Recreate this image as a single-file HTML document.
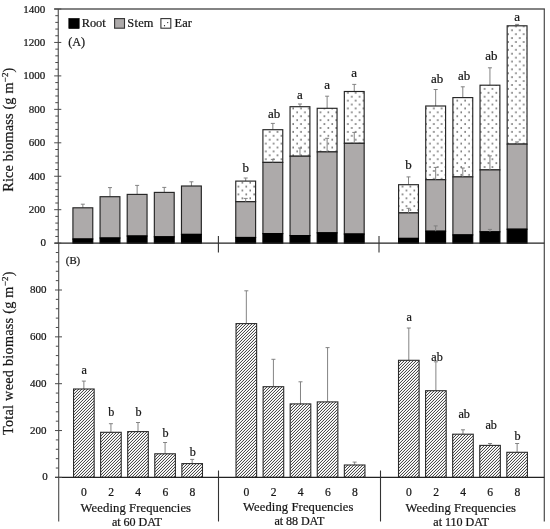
<!DOCTYPE html>
<html lang="en">
<head>
<meta charset="utf-8">
<title>Rice and weed biomass</title>
<style>
html,body{margin:0;padding:0;background:#fff;}
svg{display:block;}
svg text{font-family:"Liberation Serif", serif;fill:#161616;stroke:#161616;stroke-width:0.22px;}
</style>
</head>
<body>
<svg width="550" height="529" viewBox="0 0 550 529">
<rect x="0" y="0" width="550" height="529" fill="#fff"/>
<defs>
<pattern id="dots" x="-2" y="0" width="7.815" height="7.815" patternUnits="userSpaceOnUse">
<rect width="7.815" height="7.815" fill="#fff"/>
<circle cx="2.1" cy="2.9" r="0.72" fill="#000"/>
<circle cx="6.0" cy="6.8" r="0.72" fill="#000"/>
</pattern>
</defs>
<path d="M82.85,207.80 V204.20 M80.85,204.20 H84.85" stroke="#7d7d7d" stroke-width="0.95" fill="none"/>
<rect x="72.92" y="207.80" width="19.85" height="31.20" fill="#adaaaa" stroke="#242424" stroke-width="1.15"/>
<rect x="72.92" y="239.00" width="19.85" height="4.15" fill="#000" stroke="#000" stroke-width="1.15"/>
<path d="M109.99,196.70 V187.60 M107.99,187.60 H111.99" stroke="#7d7d7d" stroke-width="0.95" fill="none"/>
<rect x="100.06" y="196.70" width="19.85" height="41.30" fill="#adaaaa" stroke="#242424" stroke-width="1.15"/>
<rect x="100.06" y="238.00" width="19.85" height="5.15" fill="#000" stroke="#000" stroke-width="1.15"/>
<path d="M137.13,194.40 V185.40 M135.13,185.40 H139.13" stroke="#7d7d7d" stroke-width="0.95" fill="none"/>
<rect x="127.20" y="194.40" width="19.85" height="41.60" fill="#adaaaa" stroke="#242424" stroke-width="1.15"/>
<rect x="127.20" y="236.00" width="19.85" height="7.15" fill="#000" stroke="#000" stroke-width="1.15"/>
<path d="M164.27,192.40 V187.40 M162.27,187.40 H166.27" stroke="#7d7d7d" stroke-width="0.95" fill="none"/>
<rect x="154.34" y="192.40" width="19.85" height="44.40" fill="#adaaaa" stroke="#242424" stroke-width="1.15"/>
<rect x="154.34" y="236.80" width="19.85" height="6.35" fill="#000" stroke="#000" stroke-width="1.15"/>
<path d="M191.41,186.00 V181.80 M189.41,181.80 H193.41" stroke="#7d7d7d" stroke-width="0.95" fill="none"/>
<rect x="181.48" y="186.00" width="19.85" height="48.40" fill="#adaaaa" stroke="#242424" stroke-width="1.15"/>
<rect x="181.48" y="234.40" width="19.85" height="8.75" fill="#000" stroke="#000" stroke-width="1.15"/>
<path d="M245.69,181.10 V178.00 M243.69,178.00 H247.69" stroke="#7d7d7d" stroke-width="0.95" fill="none"/>
<rect x="235.76" y="181.10" width="19.85" height="20.60" fill="url(#dots)" stroke="#242424" stroke-width="1.15"/>
<rect x="235.76" y="201.70" width="19.85" height="35.80" fill="#adaaaa" stroke="#242424" stroke-width="1.15"/>
<path d="M245.69,201.70 V198.40 M243.69,198.40 H247.69" stroke="#7d7d7d" stroke-width="0.95" fill="none"/>
<rect x="235.76" y="237.50" width="19.85" height="5.65" fill="#000" stroke="#000" stroke-width="1.15"/>
<text x="245.7" y="171.5" font-size="13" text-anchor="middle">b</text>
<path d="M272.83,129.70 V123.40 M270.83,123.40 H274.83" stroke="#7d7d7d" stroke-width="0.95" fill="none"/>
<rect x="262.91" y="129.70" width="19.85" height="32.70" fill="url(#dots)" stroke="#242424" stroke-width="1.15"/>
<rect x="262.91" y="162.40" width="19.85" height="71.20" fill="#adaaaa" stroke="#242424" stroke-width="1.15"/>
<path d="M272.83,162.40 V159.40 M270.83,159.40 H274.83" stroke="#7d7d7d" stroke-width="0.95" fill="none"/>
<rect x="262.91" y="233.60" width="19.85" height="9.55" fill="#000" stroke="#000" stroke-width="1.15"/>
<text x="274.2" y="118.0" font-size="13" text-anchor="middle">ab</text>
<path d="M299.97,106.70 V104.00 M297.97,104.00 H301.97" stroke="#7d7d7d" stroke-width="0.95" fill="none"/>
<rect x="290.05" y="106.70" width="19.85" height="49.50" fill="url(#dots)" stroke="#242424" stroke-width="1.15"/>
<rect x="290.05" y="156.20" width="19.85" height="79.40" fill="#adaaaa" stroke="#242424" stroke-width="1.15"/>
<path d="M299.97,156.20 V148.00 M297.97,148.00 H301.97" stroke="#7d7d7d" stroke-width="0.95" fill="none"/>
<rect x="290.05" y="235.60" width="19.85" height="7.55" fill="#000" stroke="#000" stroke-width="1.15"/>
<text x="300.0" y="98.5" font-size="13" text-anchor="middle">a</text>
<path d="M327.11,108.30 V96.20 M325.11,96.20 H329.11" stroke="#7d7d7d" stroke-width="0.95" fill="none"/>
<rect x="317.19" y="108.30" width="19.85" height="43.60" fill="url(#dots)" stroke="#242424" stroke-width="1.15"/>
<rect x="317.19" y="151.90" width="19.85" height="80.90" fill="#adaaaa" stroke="#242424" stroke-width="1.15"/>
<path d="M327.11,151.90 V138.30 M325.11,138.30 H329.11" stroke="#7d7d7d" stroke-width="0.95" fill="none"/>
<rect x="317.19" y="232.80" width="19.85" height="10.35" fill="#000" stroke="#000" stroke-width="1.15"/>
<text x="327.1" y="89.0" font-size="13" text-anchor="middle">a</text>
<path d="M354.25,91.50 V84.40 M352.25,84.40 H356.25" stroke="#7d7d7d" stroke-width="0.95" fill="none"/>
<rect x="344.32" y="91.50" width="19.85" height="51.80" fill="url(#dots)" stroke="#242424" stroke-width="1.15"/>
<rect x="344.32" y="143.30" width="19.85" height="90.70" fill="#adaaaa" stroke="#242424" stroke-width="1.15"/>
<path d="M354.25,143.30 V132.40 M352.25,132.40 H356.25" stroke="#7d7d7d" stroke-width="0.95" fill="none"/>
<rect x="344.32" y="234.00" width="19.85" height="9.15" fill="#000" stroke="#000" stroke-width="1.15"/>
<text x="354.2" y="77.4" font-size="13" text-anchor="middle">a</text>
<path d="M408.53,184.70 V176.90 M406.53,176.90 H410.53" stroke="#7d7d7d" stroke-width="0.95" fill="none"/>
<rect x="398.60" y="184.70" width="19.85" height="28.20" fill="url(#dots)" stroke="#242424" stroke-width="1.15"/>
<rect x="398.60" y="212.90" width="19.85" height="25.50" fill="#adaaaa" stroke="#242424" stroke-width="1.15"/>
<path d="M408.53,212.90 V208.30 M406.53,208.30 H410.53" stroke="#7d7d7d" stroke-width="0.95" fill="none"/>
<rect x="398.60" y="238.40" width="19.85" height="4.75" fill="#000" stroke="#000" stroke-width="1.15"/>
<text x="408.5" y="169.3" font-size="13" text-anchor="middle">b</text>
<path d="M435.67,106.00 V89.50 M433.67,89.50 H437.67" stroke="#7d7d7d" stroke-width="0.95" fill="none"/>
<rect x="425.74" y="106.00" width="19.85" height="73.70" fill="url(#dots)" stroke="#242424" stroke-width="1.15"/>
<rect x="425.74" y="179.70" width="19.85" height="51.50" fill="#adaaaa" stroke="#242424" stroke-width="1.15"/>
<path d="M435.67,179.70 V167.40 M433.67,167.40 H437.67" stroke="#7d7d7d" stroke-width="0.95" fill="none"/>
<rect x="425.74" y="231.20" width="19.85" height="11.95" fill="#000" stroke="#000" stroke-width="1.15"/>
<path d="M435.67,231.20 V225.90 M433.67,225.90 H437.67" stroke="#7d7d7d" stroke-width="0.95" fill="none"/>
<text x="437.1" y="82.5" font-size="13" text-anchor="middle">ab</text>
<path d="M462.81,97.60 V86.80 M460.81,86.80 H464.81" stroke="#7d7d7d" stroke-width="0.95" fill="none"/>
<rect x="452.89" y="97.60" width="19.85" height="79.30" fill="url(#dots)" stroke="#242424" stroke-width="1.15"/>
<rect x="452.89" y="176.90" width="19.85" height="58.00" fill="#adaaaa" stroke="#242424" stroke-width="1.15"/>
<path d="M462.81,176.90 V168.00 M460.81,168.00 H464.81" stroke="#7d7d7d" stroke-width="0.95" fill="none"/>
<rect x="452.89" y="234.90" width="19.85" height="8.25" fill="#000" stroke="#000" stroke-width="1.15"/>
<text x="464.2" y="80.4" font-size="13" text-anchor="middle">ab</text>
<path d="M489.95,85.20 V67.80 M487.95,67.80 H491.95" stroke="#7d7d7d" stroke-width="0.95" fill="none"/>
<rect x="480.03" y="85.20" width="19.85" height="84.70" fill="url(#dots)" stroke="#242424" stroke-width="1.15"/>
<rect x="480.03" y="169.90" width="19.85" height="61.90" fill="#adaaaa" stroke="#242424" stroke-width="1.15"/>
<path d="M489.95,169.90 V155.90 M487.95,155.90 H491.95" stroke="#7d7d7d" stroke-width="0.95" fill="none"/>
<rect x="480.03" y="231.80" width="19.85" height="11.35" fill="#000" stroke="#000" stroke-width="1.15"/>
<path d="M489.95,231.80 V229.40 M487.95,229.40 H491.95" stroke="#7d7d7d" stroke-width="0.95" fill="none"/>
<text x="491.4" y="60.1" font-size="13" text-anchor="middle">ab</text>
<path d="M517.09,25.80 V24.40 M515.09,24.40 H519.09" stroke="#7d7d7d" stroke-width="0.95" fill="none"/>
<rect x="507.17" y="25.80" width="19.85" height="118.30" fill="url(#dots)" stroke="#242424" stroke-width="1.15"/>
<rect x="507.17" y="144.10" width="19.85" height="85.10" fill="#adaaaa" stroke="#242424" stroke-width="1.15"/>
<path d="M517.09,144.10 V141.90 M515.09,141.90 H519.09" stroke="#7d7d7d" stroke-width="0.95" fill="none"/>
<rect x="507.17" y="229.20" width="19.85" height="13.95" fill="#000" stroke="#000" stroke-width="1.15"/>
<text x="517.1" y="20.6" font-size="13" text-anchor="middle">a</text>
<clipPath id="bclip"><rect x="73.55" y="389.00" width="20.60" height="88.40"/><rect x="100.63" y="432.30" width="20.60" height="45.10"/><rect x="127.71" y="431.60" width="20.60" height="45.80"/><rect x="154.79" y="453.80" width="20.60" height="23.60"/><rect x="181.87" y="463.60" width="20.60" height="13.80"/><rect x="236.03" y="323.60" width="20.60" height="153.80"/><rect x="263.11" y="386.70" width="20.60" height="90.70"/><rect x="290.19" y="403.90" width="20.60" height="73.50"/><rect x="317.27" y="401.90" width="20.60" height="75.50"/><rect x="344.35" y="465.00" width="20.60" height="12.40"/><rect x="398.51" y="360.30" width="20.60" height="117.10"/><rect x="425.59" y="390.70" width="20.60" height="86.70"/><rect x="452.67" y="434.20" width="20.60" height="43.20"/><rect x="479.75" y="445.40" width="20.60" height="32.00"/><rect x="506.83" y="452.30" width="20.60" height="25.10"/></clipPath>
<path clip-path="url(#bclip)" d="M-139.50,478.4l200.00,-200M-136.50,478.4l200.00,-200M-133.50,478.4l200.00,-200M-130.50,478.4l200.00,-200M-127.50,478.4l200.00,-200M-124.50,478.4l200.00,-200M-121.50,478.4l200.00,-200M-118.50,478.4l200.00,-200M-115.50,478.4l200.00,-200M-112.50,478.4l200.00,-200M-109.50,478.4l200.00,-200M-106.50,478.4l200.00,-200M-103.50,478.4l200.00,-200M-100.50,478.4l200.00,-200M-97.50,478.4l200.00,-200M-94.50,478.4l200.00,-200M-91.50,478.4l200.00,-200M-88.50,478.4l200.00,-200M-85.50,478.4l200.00,-200M-82.50,478.4l200.00,-200M-79.50,478.4l200.00,-200M-76.50,478.4l200.00,-200M-73.50,478.4l200.00,-200M-70.50,478.4l200.00,-200M-67.50,478.4l200.00,-200M-64.50,478.4l200.00,-200M-61.50,478.4l200.00,-200M-58.50,478.4l200.00,-200M-55.50,478.4l200.00,-200M-52.50,478.4l200.00,-200M-49.50,478.4l200.00,-200M-46.50,478.4l200.00,-200M-43.50,478.4l200.00,-200M-40.50,478.4l200.00,-200M-37.50,478.4l200.00,-200M-34.50,478.4l200.00,-200M-31.50,478.4l200.00,-200M-28.50,478.4l200.00,-200M-25.50,478.4l200.00,-200M-22.50,478.4l200.00,-200M-19.50,478.4l200.00,-200M-16.50,478.4l200.00,-200M-13.50,478.4l200.00,-200M-10.50,478.4l200.00,-200M-7.50,478.4l200.00,-200M-4.50,478.4l200.00,-200M-1.50,478.4l200.00,-200M1.50,478.4l200.00,-200M4.50,478.4l200.00,-200M7.50,478.4l200.00,-200M10.50,478.4l200.00,-200M13.50,478.4l200.00,-200M16.50,478.4l200.00,-200M19.50,478.4l200.00,-200M22.50,478.4l200.00,-200M25.50,478.4l200.00,-200M28.50,478.4l200.00,-200M31.50,478.4l200.00,-200M34.50,478.4l200.00,-200M37.50,478.4l200.00,-200M40.50,478.4l200.00,-200M43.50,478.4l200.00,-200M46.50,478.4l200.00,-200M49.50,478.4l200.00,-200M52.50,478.4l200.00,-200M55.50,478.4l200.00,-200M58.50,478.4l200.00,-200M61.50,478.4l200.00,-200M64.50,478.4l200.00,-200M67.50,478.4l200.00,-200M70.50,478.4l200.00,-200M73.50,478.4l200.00,-200M76.50,478.4l200.00,-200M79.50,478.4l200.00,-200M82.50,478.4l200.00,-200M85.50,478.4l200.00,-200M88.50,478.4l200.00,-200M91.50,478.4l200.00,-200M94.50,478.4l200.00,-200M97.50,478.4l200.00,-200M100.50,478.4l200.00,-200M103.50,478.4l200.00,-200M106.50,478.4l200.00,-200M109.50,478.4l200.00,-200M112.50,478.4l200.00,-200M115.50,478.4l200.00,-200M118.50,478.4l200.00,-200M121.50,478.4l200.00,-200M124.50,478.4l200.00,-200M127.50,478.4l200.00,-200M130.50,478.4l200.00,-200M133.50,478.4l200.00,-200M136.50,478.4l200.00,-200M139.50,478.4l200.00,-200M142.50,478.4l200.00,-200M145.50,478.4l200.00,-200M148.50,478.4l200.00,-200M151.50,478.4l200.00,-200M154.50,478.4l200.00,-200M157.50,478.4l200.00,-200M160.50,478.4l200.00,-200M163.50,478.4l200.00,-200M166.50,478.4l200.00,-200M169.50,478.4l200.00,-200M172.50,478.4l200.00,-200M175.50,478.4l200.00,-200M178.50,478.4l200.00,-200M181.50,478.4l200.00,-200M184.50,478.4l200.00,-200M187.50,478.4l200.00,-200M190.50,478.4l200.00,-200M193.50,478.4l200.00,-200M196.50,478.4l200.00,-200M199.50,478.4l200.00,-200M202.50,478.4l200.00,-200M205.50,478.4l200.00,-200M208.50,478.4l200.00,-200M211.50,478.4l200.00,-200M214.50,478.4l200.00,-200M217.50,478.4l200.00,-200M220.50,478.4l200.00,-200M223.50,478.4l200.00,-200M226.50,478.4l200.00,-200M229.50,478.4l200.00,-200M232.50,478.4l200.00,-200M235.50,478.4l200.00,-200M238.50,478.4l200.00,-200M241.50,478.4l200.00,-200M244.50,478.4l200.00,-200M247.50,478.4l200.00,-200M250.50,478.4l200.00,-200M253.50,478.4l200.00,-200M256.50,478.4l200.00,-200M259.50,478.4l200.00,-200M262.50,478.4l200.00,-200M265.50,478.4l200.00,-200M268.50,478.4l200.00,-200M271.50,478.4l200.00,-200M274.50,478.4l200.00,-200M277.50,478.4l200.00,-200M280.50,478.4l200.00,-200M283.50,478.4l200.00,-200M286.50,478.4l200.00,-200M289.50,478.4l200.00,-200M292.50,478.4l200.00,-200M295.50,478.4l200.00,-200M298.50,478.4l200.00,-200M301.50,478.4l200.00,-200M304.50,478.4l200.00,-200M307.50,478.4l200.00,-200M310.50,478.4l200.00,-200M313.50,478.4l200.00,-200M316.50,478.4l200.00,-200M319.50,478.4l200.00,-200M322.50,478.4l200.00,-200M325.50,478.4l200.00,-200M328.50,478.4l200.00,-200M331.50,478.4l200.00,-200M334.50,478.4l200.00,-200M337.50,478.4l200.00,-200M340.50,478.4l200.00,-200M343.50,478.4l200.00,-200M346.50,478.4l200.00,-200M349.50,478.4l200.00,-200M352.50,478.4l200.00,-200M355.50,478.4l200.00,-200M358.50,478.4l200.00,-200M361.50,478.4l200.00,-200M364.50,478.4l200.00,-200M367.50,478.4l200.00,-200M370.50,478.4l200.00,-200M373.50,478.4l200.00,-200M376.50,478.4l200.00,-200M379.50,478.4l200.00,-200M382.50,478.4l200.00,-200M385.50,478.4l200.00,-200M388.50,478.4l200.00,-200M391.50,478.4l200.00,-200M394.50,478.4l200.00,-200M397.50,478.4l200.00,-200M400.50,478.4l200.00,-200M403.50,478.4l200.00,-200M406.50,478.4l200.00,-200M409.50,478.4l200.00,-200M412.50,478.4l200.00,-200M415.50,478.4l200.00,-200M418.50,478.4l200.00,-200M421.50,478.4l200.00,-200M424.50,478.4l200.00,-200M427.50,478.4l200.00,-200M430.50,478.4l200.00,-200M433.50,478.4l200.00,-200M436.50,478.4l200.00,-200M439.50,478.4l200.00,-200M442.50,478.4l200.00,-200M445.50,478.4l200.00,-200M448.50,478.4l200.00,-200M451.50,478.4l200.00,-200M454.50,478.4l200.00,-200M457.50,478.4l200.00,-200M460.50,478.4l200.00,-200M463.50,478.4l200.00,-200M466.50,478.4l200.00,-200M469.50,478.4l200.00,-200M472.50,478.4l200.00,-200M475.50,478.4l200.00,-200M478.50,478.4l200.00,-200M481.50,478.4l200.00,-200M484.50,478.4l200.00,-200M487.50,478.4l200.00,-200M490.50,478.4l200.00,-200M493.50,478.4l200.00,-200M496.50,478.4l200.00,-200M499.50,478.4l200.00,-200M502.50,478.4l200.00,-200M505.50,478.4l200.00,-200M508.50,478.4l200.00,-200M511.50,478.4l200.00,-200M514.50,478.4l200.00,-200M517.50,478.4l200.00,-200M520.50,478.4l200.00,-200M523.50,478.4l200.00,-200M526.50,478.4l200.00,-200M529.50,478.4l200.00,-200M532.50,478.4l200.00,-200M535.50,478.4l200.00,-200M538.50,478.4l200.00,-200M541.50,478.4l200.00,-200M544.50,478.4l200.00,-200" stroke="#2a2a2a" stroke-width="0.94" fill="none"/>
<path d="M83.85,389.00 V381.10 M81.85,381.10 H85.85" stroke="#7d7d7d" stroke-width="0.95" fill="none"/>
<rect x="73.55" y="389.00" width="20.60" height="88.40" fill="none" stroke="#2b2b2b" stroke-width="1.1"/>
<text x="84.3" y="373.9" font-size="12.2" text-anchor="middle">a</text>
<path d="M110.93,432.30 V423.70 M108.93,423.70 H112.93" stroke="#7d7d7d" stroke-width="0.95" fill="none"/>
<rect x="100.63" y="432.30" width="20.60" height="45.10" fill="none" stroke="#2b2b2b" stroke-width="1.1"/>
<text x="111.4" y="416.1" font-size="12.2" text-anchor="middle">b</text>
<path d="M138.01,431.60 V422.50 M136.01,422.50 H140.01" stroke="#7d7d7d" stroke-width="0.95" fill="none"/>
<rect x="127.71" y="431.60" width="20.60" height="45.80" fill="none" stroke="#2b2b2b" stroke-width="1.1"/>
<text x="138.5" y="416.1" font-size="12.2" text-anchor="middle">b</text>
<path d="M165.09,453.80 V442.50 M163.09,442.50 H167.09" stroke="#7d7d7d" stroke-width="0.95" fill="none"/>
<rect x="154.79" y="453.80" width="20.60" height="23.60" fill="none" stroke="#2b2b2b" stroke-width="1.1"/>
<text x="165.6" y="437.1" font-size="12.2" text-anchor="middle">b</text>
<path d="M192.17,463.60 V459.40 M190.17,459.40 H194.17" stroke="#7d7d7d" stroke-width="0.95" fill="none"/>
<rect x="181.87" y="463.60" width="20.60" height="13.80" fill="none" stroke="#2b2b2b" stroke-width="1.1"/>
<text x="192.7" y="455.6" font-size="12.2" text-anchor="middle">b</text>
<path d="M246.33,323.60 V290.80 M244.33,290.80 H248.33" stroke="#7d7d7d" stroke-width="0.95" fill="none"/>
<rect x="236.03" y="323.60" width="20.60" height="153.80" fill="none" stroke="#2b2b2b" stroke-width="1.1"/>
<path d="M273.41,386.70 V359.30 M271.41,359.30 H275.41" stroke="#7d7d7d" stroke-width="0.95" fill="none"/>
<rect x="263.11" y="386.70" width="20.60" height="90.70" fill="none" stroke="#2b2b2b" stroke-width="1.1"/>
<path d="M300.49,403.90 V381.80 M298.49,381.80 H302.49" stroke="#7d7d7d" stroke-width="0.95" fill="none"/>
<rect x="290.19" y="403.90" width="20.60" height="73.50" fill="none" stroke="#2b2b2b" stroke-width="1.1"/>
<path d="M327.57,401.90 V347.60 M325.57,347.60 H329.57" stroke="#7d7d7d" stroke-width="0.95" fill="none"/>
<rect x="317.27" y="401.90" width="20.60" height="75.50" fill="none" stroke="#2b2b2b" stroke-width="1.1"/>
<path d="M354.65,465.00 V462.10 M352.65,462.10 H356.65" stroke="#7d7d7d" stroke-width="0.95" fill="none"/>
<rect x="344.35" y="465.00" width="20.60" height="12.40" fill="none" stroke="#2b2b2b" stroke-width="1.1"/>
<path d="M408.81,360.30 V328.00 M406.81,328.00 H410.81" stroke="#7d7d7d" stroke-width="0.95" fill="none"/>
<rect x="398.51" y="360.30" width="20.60" height="117.10" fill="none" stroke="#2b2b2b" stroke-width="1.1"/>
<text x="409.3" y="321.0" font-size="12.2" text-anchor="middle">a</text>
<path d="M435.89,390.70 V361.80 M433.89,361.80 H437.89" stroke="#7d7d7d" stroke-width="0.95" fill="none"/>
<rect x="425.59" y="390.70" width="20.60" height="86.70" fill="none" stroke="#2b2b2b" stroke-width="1.1"/>
<text x="437.1" y="360.6" font-size="12.2" text-anchor="middle">ab</text>
<path d="M462.97,434.20 V429.80 M460.97,429.80 H464.97" stroke="#7d7d7d" stroke-width="0.95" fill="none"/>
<rect x="452.67" y="434.20" width="20.60" height="43.20" fill="none" stroke="#2b2b2b" stroke-width="1.1"/>
<text x="464.2" y="417.9" font-size="12.2" text-anchor="middle">ab</text>
<path d="M490.05,445.40 V443.50 M488.05,443.50 H492.05" stroke="#7d7d7d" stroke-width="0.95" fill="none"/>
<rect x="479.75" y="445.40" width="20.60" height="32.00" fill="none" stroke="#2b2b2b" stroke-width="1.1"/>
<text x="491.2" y="429.1" font-size="12.2" text-anchor="middle">ab</text>
<path d="M517.13,452.30 V443.50 M515.13,443.50 H519.13" stroke="#7d7d7d" stroke-width="0.95" fill="none"/>
<rect x="506.83" y="452.30" width="20.60" height="25.10" fill="none" stroke="#2b2b2b" stroke-width="1.1"/>
<text x="517.6" y="439.9" font-size="12.2" text-anchor="middle">b</text>
<line x1="54.20" y1="9.00" x2="544.90" y2="9.00" stroke="#5a5a5a" stroke-width="1.4"/>
<line x1="544.30" y1="9.00" x2="544.30" y2="521.50" stroke="#4a4a4a" stroke-width="1.2"/>
<line x1="58.25" y1="9.00" x2="58.25" y2="243.15" stroke="#4a4a4a" stroke-width="1.1"/>
<line x1="58.70" y1="243.15" x2="58.70" y2="521.50" stroke="#4a4a4a" stroke-width="1.1"/>
<line x1="54.50" y1="243.15" x2="544.30" y2="243.15" stroke="#222" stroke-width="1.3"/>
<line x1="55.00" y1="477.40" x2="544.30" y2="477.40" stroke="#222" stroke-width="1.3"/>
<line x1="54.20" y1="243.15" x2="61.30" y2="243.15" stroke="#4a4a4a" stroke-width="1.0"/>
<line x1="55.30" y1="236.46" x2="58.25" y2="236.46" stroke="#4a4a4a" stroke-width="1.0"/>
<line x1="55.30" y1="229.77" x2="58.25" y2="229.77" stroke="#4a4a4a" stroke-width="1.0"/>
<line x1="55.30" y1="223.08" x2="58.25" y2="223.08" stroke="#4a4a4a" stroke-width="1.0"/>
<line x1="55.30" y1="216.39" x2="58.25" y2="216.39" stroke="#4a4a4a" stroke-width="1.0"/>
<line x1="54.20" y1="209.70" x2="61.30" y2="209.70" stroke="#4a4a4a" stroke-width="1.0"/>
<line x1="55.30" y1="203.01" x2="58.25" y2="203.01" stroke="#4a4a4a" stroke-width="1.0"/>
<line x1="55.30" y1="196.32" x2="58.25" y2="196.32" stroke="#4a4a4a" stroke-width="1.0"/>
<line x1="55.30" y1="189.63" x2="58.25" y2="189.63" stroke="#4a4a4a" stroke-width="1.0"/>
<line x1="55.30" y1="182.94" x2="58.25" y2="182.94" stroke="#4a4a4a" stroke-width="1.0"/>
<line x1="54.20" y1="176.25" x2="61.30" y2="176.25" stroke="#4a4a4a" stroke-width="1.0"/>
<line x1="55.30" y1="169.56" x2="58.25" y2="169.56" stroke="#4a4a4a" stroke-width="1.0"/>
<line x1="55.30" y1="162.87" x2="58.25" y2="162.87" stroke="#4a4a4a" stroke-width="1.0"/>
<line x1="55.30" y1="156.18" x2="58.25" y2="156.18" stroke="#4a4a4a" stroke-width="1.0"/>
<line x1="55.30" y1="149.49" x2="58.25" y2="149.49" stroke="#4a4a4a" stroke-width="1.0"/>
<line x1="54.20" y1="142.80" x2="61.30" y2="142.80" stroke="#4a4a4a" stroke-width="1.0"/>
<line x1="55.30" y1="136.11" x2="58.25" y2="136.11" stroke="#4a4a4a" stroke-width="1.0"/>
<line x1="55.30" y1="129.42" x2="58.25" y2="129.42" stroke="#4a4a4a" stroke-width="1.0"/>
<line x1="55.30" y1="122.73" x2="58.25" y2="122.73" stroke="#4a4a4a" stroke-width="1.0"/>
<line x1="55.30" y1="116.04" x2="58.25" y2="116.04" stroke="#4a4a4a" stroke-width="1.0"/>
<line x1="54.20" y1="109.35" x2="61.30" y2="109.35" stroke="#4a4a4a" stroke-width="1.0"/>
<line x1="55.30" y1="102.66" x2="58.25" y2="102.66" stroke="#4a4a4a" stroke-width="1.0"/>
<line x1="55.30" y1="95.97" x2="58.25" y2="95.97" stroke="#4a4a4a" stroke-width="1.0"/>
<line x1="55.30" y1="89.28" x2="58.25" y2="89.28" stroke="#4a4a4a" stroke-width="1.0"/>
<line x1="55.30" y1="82.59" x2="58.25" y2="82.59" stroke="#4a4a4a" stroke-width="1.0"/>
<line x1="54.20" y1="75.90" x2="61.30" y2="75.90" stroke="#4a4a4a" stroke-width="1.0"/>
<line x1="55.30" y1="69.21" x2="58.25" y2="69.21" stroke="#4a4a4a" stroke-width="1.0"/>
<line x1="55.30" y1="62.52" x2="58.25" y2="62.52" stroke="#4a4a4a" stroke-width="1.0"/>
<line x1="55.30" y1="55.83" x2="58.25" y2="55.83" stroke="#4a4a4a" stroke-width="1.0"/>
<line x1="55.30" y1="49.14" x2="58.25" y2="49.14" stroke="#4a4a4a" stroke-width="1.0"/>
<line x1="54.20" y1="42.45" x2="61.30" y2="42.45" stroke="#4a4a4a" stroke-width="1.0"/>
<line x1="55.30" y1="35.76" x2="58.25" y2="35.76" stroke="#4a4a4a" stroke-width="1.0"/>
<line x1="55.30" y1="29.07" x2="58.25" y2="29.07" stroke="#4a4a4a" stroke-width="1.0"/>
<line x1="55.30" y1="22.38" x2="58.25" y2="22.38" stroke="#4a4a4a" stroke-width="1.0"/>
<line x1="55.30" y1="15.69" x2="58.25" y2="15.69" stroke="#4a4a4a" stroke-width="1.0"/>
<line x1="54.20" y1="9.00" x2="61.30" y2="9.00" stroke="#4a4a4a" stroke-width="1.0"/>
<line x1="55.00" y1="477.40" x2="62.00" y2="477.40" stroke="#4a4a4a" stroke-width="1.0"/>
<line x1="55.80" y1="468.03" x2="58.70" y2="468.03" stroke="#4a4a4a" stroke-width="1.0"/>
<line x1="55.80" y1="458.66" x2="58.70" y2="458.66" stroke="#4a4a4a" stroke-width="1.0"/>
<line x1="55.80" y1="449.29" x2="58.70" y2="449.29" stroke="#4a4a4a" stroke-width="1.0"/>
<line x1="55.80" y1="439.92" x2="58.70" y2="439.92" stroke="#4a4a4a" stroke-width="1.0"/>
<line x1="55.00" y1="430.55" x2="62.00" y2="430.55" stroke="#4a4a4a" stroke-width="1.0"/>
<line x1="55.80" y1="421.18" x2="58.70" y2="421.18" stroke="#4a4a4a" stroke-width="1.0"/>
<line x1="55.80" y1="411.81" x2="58.70" y2="411.81" stroke="#4a4a4a" stroke-width="1.0"/>
<line x1="55.80" y1="402.44" x2="58.70" y2="402.44" stroke="#4a4a4a" stroke-width="1.0"/>
<line x1="55.80" y1="393.07" x2="58.70" y2="393.07" stroke="#4a4a4a" stroke-width="1.0"/>
<line x1="55.00" y1="383.70" x2="62.00" y2="383.70" stroke="#4a4a4a" stroke-width="1.0"/>
<line x1="55.80" y1="374.33" x2="58.70" y2="374.33" stroke="#4a4a4a" stroke-width="1.0"/>
<line x1="55.80" y1="364.96" x2="58.70" y2="364.96" stroke="#4a4a4a" stroke-width="1.0"/>
<line x1="55.80" y1="355.59" x2="58.70" y2="355.59" stroke="#4a4a4a" stroke-width="1.0"/>
<line x1="55.80" y1="346.22" x2="58.70" y2="346.22" stroke="#4a4a4a" stroke-width="1.0"/>
<line x1="55.00" y1="336.85" x2="62.00" y2="336.85" stroke="#4a4a4a" stroke-width="1.0"/>
<line x1="55.80" y1="327.48" x2="58.70" y2="327.48" stroke="#4a4a4a" stroke-width="1.0"/>
<line x1="55.80" y1="318.11" x2="58.70" y2="318.11" stroke="#4a4a4a" stroke-width="1.0"/>
<line x1="55.80" y1="308.74" x2="58.70" y2="308.74" stroke="#4a4a4a" stroke-width="1.0"/>
<line x1="55.80" y1="299.37" x2="58.70" y2="299.37" stroke="#4a4a4a" stroke-width="1.0"/>
<line x1="55.00" y1="290.00" x2="62.00" y2="290.00" stroke="#4a4a4a" stroke-width="1.0"/>
<line x1="55.80" y1="280.63" x2="58.70" y2="280.63" stroke="#4a4a4a" stroke-width="1.0"/>
<line x1="55.80" y1="271.26" x2="58.70" y2="271.26" stroke="#4a4a4a" stroke-width="1.0"/>
<line x1="55.80" y1="261.89" x2="58.70" y2="261.89" stroke="#4a4a4a" stroke-width="1.0"/>
<line x1="55.80" y1="252.52" x2="58.70" y2="252.52" stroke="#4a4a4a" stroke-width="1.0"/>
<line x1="218.40" y1="236.00" x2="218.40" y2="252.40" stroke="#333" stroke-width="1.1"/>
<line x1="218.50" y1="470.50" x2="218.50" y2="521.50" stroke="#333" stroke-width="1.1"/>
<line x1="379.00" y1="236.00" x2="379.00" y2="252.40" stroke="#333" stroke-width="1.1"/>
<line x1="380.50" y1="470.50" x2="380.50" y2="521.50" stroke="#333" stroke-width="1.1"/>
<text x="45.9" y="246.0" font-size="11" text-anchor="end">0</text>
<text x="45.3" y="213.2" font-size="11" text-anchor="end">200</text>
<text x="45.3" y="179.8" font-size="11" text-anchor="end">400</text>
<text x="45.3" y="146.3" font-size="11" text-anchor="end">600</text>
<text x="45.3" y="112.8" font-size="11" text-anchor="end">800</text>
<text x="45.3" y="79.4" font-size="11" text-anchor="end">1000</text>
<text x="45.3" y="45.9" font-size="11" text-anchor="end">1200</text>
<text x="45.3" y="12.5" font-size="11" text-anchor="end">1400</text>
<text x="47.7" y="480.2" font-size="11" text-anchor="end">0</text>
<text x="46.6" y="433.9" font-size="11" text-anchor="end">200</text>
<text x="46.6" y="387.1" font-size="11" text-anchor="end">400</text>
<text x="46.6" y="340.2" font-size="11" text-anchor="end">600</text>
<text x="46.6" y="293.4" font-size="11" text-anchor="end">800</text>
<text x="84.0" y="496.2" font-size="11.6" text-anchor="middle">0</text>
<text x="111.1" y="496.2" font-size="11.6" text-anchor="middle">2</text>
<text x="138.2" y="496.2" font-size="11.6" text-anchor="middle">4</text>
<text x="165.3" y="496.2" font-size="11.6" text-anchor="middle">6</text>
<text x="192.4" y="496.2" font-size="11.6" text-anchor="middle">8</text>
<text x="246.5" y="496.2" font-size="11.6" text-anchor="middle">0</text>
<text x="273.6" y="496.2" font-size="11.6" text-anchor="middle">2</text>
<text x="300.7" y="496.2" font-size="11.6" text-anchor="middle">4</text>
<text x="327.8" y="496.2" font-size="11.6" text-anchor="middle">6</text>
<text x="354.8" y="496.2" font-size="11.6" text-anchor="middle">8</text>
<text x="409.0" y="496.2" font-size="11.6" text-anchor="middle">0</text>
<text x="436.1" y="496.2" font-size="11.6" text-anchor="middle">2</text>
<text x="463.2" y="496.2" font-size="11.6" text-anchor="middle">4</text>
<text x="490.2" y="496.2" font-size="11.6" text-anchor="middle">6</text>
<text x="517.3" y="496.2" font-size="11.6" text-anchor="middle">8</text>
<text x="80.6" y="511.9" font-size="12.6" textLength="110.4" lengthAdjust="spacing">Weeding Frequencies</text>
<text x="112.0" y="525.6" font-size="12.1" textLength="49.9" lengthAdjust="spacing">at 60 DAT</text>
<text x="243.0" y="510.9" font-size="12.6" textLength="110.4" lengthAdjust="spacing">Weeding Frequencies</text>
<text x="274.4" y="525.0" font-size="12.1" textLength="49.9" lengthAdjust="spacing">at 88 DAT</text>
<text x="405.6" y="512.2" font-size="12.6" textLength="110.4" lengthAdjust="spacing">Weeding Frequencies</text>
<text x="433.3" y="525.6" font-size="12.1" textLength="55.7" lengthAdjust="spacing">at 110 DAT</text>
<rect x="68.80" y="18.40" width="10.40" height="10.20" fill="#000" stroke="#000" stroke-width="0.6"/>
<text x="81.7" y="27.3" font-size="12.4" textLength="24" lengthAdjust="spacing">Root</text>
<rect x="114.60" y="18.60" width="9.90" height="9.60" fill="#adaaaa" stroke="#333" stroke-width="1.1"/>
<text x="127.3" y="27.3" font-size="12.4" textLength="26.2" lengthAdjust="spacing">Stem</text>
<rect x="160.90" y="18.60" width="9.90" height="9.60" fill="#fff" stroke="#333" stroke-width="1.1"/>
<circle cx="164.5" cy="25.7" r="0.65" fill="#222"/><circle cx="167.7" cy="22.6" r="0.65" fill="#222"/>
<text x="174.6" y="27.3" font-size="12.4" textLength="17.2" lengthAdjust="spacing">Ear</text>
<text x="68.2" y="46.3" font-size="12.2">(A)</text>
<text x="65.8" y="264.2" font-size="10.8">(B)</text>
<text id="yla" transform="translate(12.8,191.7) rotate(-90)" font-size="14.2" textLength="124" lengthAdjust="spacing">Rice biomass (g m<tspan font-size="9" dy="-5.2">−2</tspan><tspan dy="5.2">)</tspan></text>
<text id="ylb" transform="translate(13.1,435) rotate(-90)" font-size="14.2" textLength="163.5" lengthAdjust="spacing">Total weed biomass (g m<tspan font-size="9" dy="-5.2">−2</tspan><tspan dy="5.2">)</tspan></text>
</svg>
</body>
</html>
